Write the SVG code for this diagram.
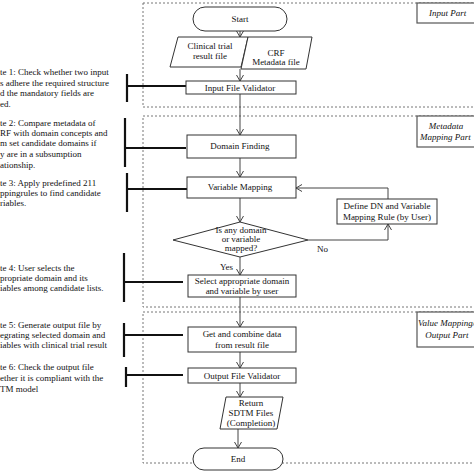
<svg xmlns="http://www.w3.org/2000/svg" width="474" height="474" viewBox="0 0 474 474">
<style>
text{font-family:"Liberation Serif","Times New Roman",serif;font-size:9px;fill:#111}
.c{text-anchor:middle}
.it{font-style:italic}
.frame{fill:none;stroke:#777;stroke-width:1;stroke-dasharray:2,2}
.lbl{fill:#fff;stroke:#555;stroke-width:1.2}
.box{fill:#fff;stroke:#333;stroke-width:1}
.ln{fill:none;stroke:#444;stroke-width:1}
.br{fill:none;stroke:#111;stroke-width:2.2}
</style>
<defs>
<marker id="ah" markerWidth="8" markerHeight="8" refX="6" refY="4" orient="auto" markerUnits="userSpaceOnUse">
<path d="M0,0.5 L6,4 L0,7.5" fill="none" stroke="#444" stroke-width="1"/>
</marker>
</defs>
<rect width="474" height="474" fill="#fff"/>

<g id="frames">
<rect class="frame" x="143" y="3" width="335" height="104"/>
<rect class="frame" x="143" y="116" width="335" height="191"/>
<rect class="frame" x="143" y="312" width="335" height="151"/>
</g>

<g id="label-input"><rect class="lbl" x="417" y="3" width="60" height="20"/><text class="it" x="429" y="16">Input Part</text></g>
<g id="label-metadata"><rect class="lbl" x="417" y="116" width="60" height="31"/><text class="it c" x="446" y="129">Metadata</text><text class="it" x="420" y="140">Mapping Part</text></g>
<g id="label-value"><rect class="lbl" x="417" y="312" width="60" height="35"/><text class="it" x="418" y="326">Value Mapping/</text><text class="it c" x="447" y="338">Output Part</text></g>

<g id="connectors">
<line class="ln" x1="240" y1="31" x2="240" y2="37" marker-end="url(#ah)"/>
<line class="ln" x1="240" y1="69" x2="240" y2="81" marker-end="url(#ah)"/>
<line class="ln" x1="240" y1="94" x2="240" y2="135" marker-end="url(#ah)"/>
<line class="ln" x1="240" y1="158" x2="240" y2="177" marker-end="url(#ah)"/>
<line class="ln" x1="240" y1="198" x2="240" y2="222" marker-end="url(#ah)"/>
<polyline class="ln" points="308,240 388,240 388,224" marker-end="url(#ah)"/>
<polyline class="ln" points="388,199 388,188 296,188" marker-end="url(#ah)"/>
<line class="ln" x1="240" y1="257" x2="240" y2="275" marker-end="url(#ah)"/>
<line class="ln" x1="240" y1="297" x2="240" y2="327" marker-end="url(#ah)"/>
<line class="ln" x1="240" y1="352" x2="240" y2="368" marker-end="url(#ah)"/>
<line class="ln" x1="240" y1="383" x2="240" y2="397" marker-end="url(#ah)"/>
<line class="ln" x1="238" y1="429" x2="238" y2="448" marker-end="url(#ah)"/>
<text x="317" y="252">No</text>
<text x="220" y="270">Yes</text>
</g>

<g id="brackets">
<path class="br" d="M127,74 V102 M127,86 H186"/>
<path class="br" d="M125,118 V167 M125,148 H186"/>
<path class="br" d="M127,173 V212 M127,189 H187"/>
<path class="br" d="M124,253 V302 M124,282 H183"/>
<path class="br" d="M124,323 V357 M124,335 H183"/>
<path class="br" d="M126,367 V387 M126,375 H183"/>
</g>

<g id="notes">
<text x="0" y="75">te 1: Check whether two input</text>
<text x="0" y="86">s adhere the required structure</text>
<text x="0" y="96">d the mandatory fields are</text>
<text x="0" y="107">ed.</text>
<text x="0" y="126">te 2: Compare metadata of</text>
<text x="0" y="136">RF with domain concepts and</text>
<text x="0" y="146">m set candidate domains if</text>
<text x="0" y="157">y are in a subsumption</text>
<text x="0" y="168">ationship.</text>
<text x="0" y="186">te 3: Apply predefined 211</text>
<text x="0" y="196">ppingrules to find candidate</text>
<text x="0" y="206">riables.</text>
<text x="0" y="271">te 4: User selects the</text>
<text x="0" y="281">propriate domain and its</text>
<text x="0" y="291">iables among candidate lists.</text>
<text x="0" y="328">te 5: Generate output file by</text>
<text x="0" y="338">egrating selected domain and</text>
<text x="0" y="348">iables with clinical trial result</text>
<text x="0" y="370">te 6: Check the output file</text>
<text x="0" y="381">ether it is compliant with the</text>
<text x="0" y="392">TM model</text>
</g>

<g id="start"><rect class="box" x="193" y="7" width="94" height="24" rx="12"/><text class="c" x="240" y="22">Start</text></g>
<g id="clinical-file"><polygon class="box" points="178,37 248,37 241,67 170,67"/><text class="c" x="210" y="49">Clinical trial</text><text class="c" x="210" y="59">result file</text></g>
<g id="crf-file"><polygon class="box" points="248,37 312,37 306,69 241,69"/><text class="c" x="276" y="56">CRF</text><text class="c" x="276" y="65">Metadata file</text></g>
<g id="input-validator"><rect class="box" x="186" y="81" width="110" height="13"/><text class="c" x="240" y="91">Input File Validator</text></g>
<g id="domain-finding"><rect class="box" x="187" y="135" width="109" height="23"/><text class="c" x="240" y="149">Domain Finding</text></g>
<g id="variable-mapping"><rect class="box" x="187" y="177" width="109" height="21"/><text class="c" x="240" y="190">Variable Mapping</text></g>
<g id="decision"><polygon class="box" points="240,222 308,240 240,257 173,240"/><text class="c" x="241" y="233">Is any domain</text><text class="c" x="241" y="242">or variable</text><text class="c" x="241" y="251">mapped?</text></g>
<g id="define-rule"><rect class="box" x="337" y="199" width="100" height="25"/><text class="c" x="387" y="209">Define DN and Variable</text><text class="c" x="387" y="220">Mapping Rule (by User)</text></g>
<g id="select"><rect class="box" x="188" y="275" width="108" height="22"/><text class="c" x="242" y="284">Select  appropriate domain</text><text class="c" x="242" y="294">and variable by user</text></g>
<g id="get-combine"><rect class="box" x="188" y="327" width="108" height="25"/><text class="c" x="242" y="337">Get and combine data</text><text class="c" x="242" y="348">from result file</text></g>
<g id="output-validator"><rect class="box" x="188" y="368" width="108" height="15"/><text class="c" x="242" y="379">Output File Validator</text></g>
<g id="return"><polygon class="box" points="226,397 283,397 277,429 220,429"/><text class="c" x="251" y="406">Return</text><text class="c" x="251" y="416">SDTM Files</text><text class="c" x="251" y="426">(Completion)</text></g>
<g id="end"><rect class="box" x="193" y="448" width="90" height="22" rx="11"/><text class="c" x="238" y="462">End</text></g>
</svg>
